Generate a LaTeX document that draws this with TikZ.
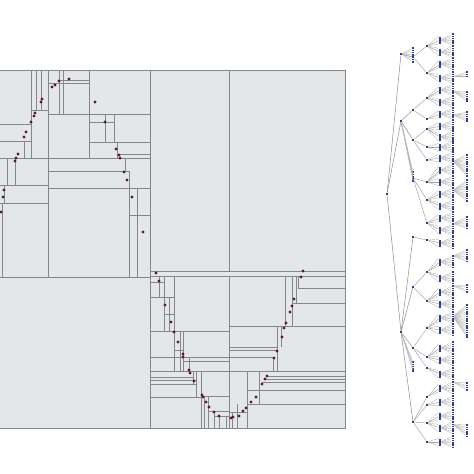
\documentclass[tikz,border=0pt]{standalone}
\usetikzlibrary{positioning}
\definecolor{cellfill}{HTML}{E4E7EA}
\definecolor{cutgray}{HTML}{84878A}
\definecolor{ptred}{HTML}{5A1A24}
\definecolor{navy}{HTML}{2E3C8E}
\tikzset{
  cell/.style={fill=cellfill, draw=cutgray, line width=1pt},
  cut/.style={draw=cutgray, line width=0.9pt},
  sample/.style={fill=ptred},
  tnode/.style={fill=navy, inner sep=0pt, minimum width=2.4pt, minimum height=2.4pt},
  bar/.style={tnode, minimum height=7pt},
  leaf/.style={fill=navy, inner sep=0pt, minimum width=2.6pt, minimum height=1.6pt},
  edge/.style={draw=black!45, line width=0.5pt},
  fan/.style={draw=black!28, line width=0.4pt}
}
% column of leaves hanging off one parent: name, parent, x, top y, count
\newcommand{\leafcol}[5]{%
  \foreach \k in {1,...,#5}{%
    \pgfmathsetmacro{\yy}{#4+2.3*(\k-1)}%
    \node[leaf] (#1-\k) at (#3,\yy) {};
    \draw[fan] (#2) -- (#1-\k);
  }}

\begin{document}
\begin{tikzpicture}[x=1pt,y=-1pt]
\useasboundingbox (0,0) rectangle (474,474);

% partition of the plane
\begin{scope}
  \clip (0,0) rectangle (474,474);
  \draw[cell] (-15,70) rectangle (345,428);
  \foreach \y/\xa/\xb in {277/-15/150, 271/150/345, 276/150/345, 158/-15/150,
      110/31/48, 80/59/89, 83/48/89, 114/48/150, 122/89/114, 142/89/150, 154/117/150,
      124/-15/31, 141/-15/31, 171/48/129, 188/48/150, 215/129/150, 185/-15/48, 203/-15/48,
      282/150/164, 297/150/174, 314/164/174, 331/150/229, 350/174/183, 357/150/229,
      361/183/229, 371/150/345, 377/150/193, 380/150/196, 384/150/196, 397/150/201,
      396/201/229, 411/208/229, 416/214/229,
      288/298/345, 303/292/345, 326/229/345, 347/229/277, 350/229/277, 357/229/273,
      376/266/345, 379/264/345, 382/262/345, 390/247/345, 404/247/345, 412/229/247}
    \draw[cut] (\xa,\y) -- (\xb,\y);
  \foreach \x/\ya/\yb in {150/70/428, 229/70/271, 229/276/428,
      31/70/158, 36/70/110, 41/70/110, 48/70/158, 59/70/114, 63/70/114, 89/70/158,
      105/114/142, 114/114/142, 117/142/158, 24/141/158,
      48/158/277, 125/158/171, 129/171/277, 137/188/277, 7/158/185, 15/158/185,
      4/185/203, 2/203/277,
      159/276/297, 164/276/331, 174/276/371, 169/297/331, 180/331/371, 183/331/371,
      189/357/371, 193/371/384, 196/371/397, 201/371/428, 204/397/428, 208/396/428,
      214/411/428, 219/416/428, 226/416/428,
      298/276/288, 296/276/303, 292/276/326, 285/276/326, 277/326/371, 281/326/347,
      273/357/371, 247/371/428, 259/371/404, 237/404/428, 232/412/428}
    \draw[cut] (\x,\ya) -- (\x,\yb);
  % samples
  \foreach \px/\py in {69/79, 59/81, 55/85, 52/87, 42/99, 41/102, 35/113, 34/116,
      31/122, 26/132, 24/137, 18/154, 16/158, 15/161, 4/190, 3/197, 1/212,
      95/102, 105/122, 116/149, 119/155, 120/158, 124/172, 127/180, 132/197, 143/232,
      156/273, 159/281, 165/305, 171/322, 174/332, 178/342, 183/354, 183/357,
      189/370, 190/373, 194/381, 202/395, 203/397, 206/402, 209/407, 214/412,
      219/416, 231/418, 233/417, 239/416, 243/411, 246/408, 251/402, 256/397,
      262/384, 265/379, 267/376, 274/358, 277/351, 282/337, 284/328, 286/323,
      290/312, 292/306, 294/299, 301/277, 303/271}
    \fill[sample] (\px,\py) circle (1.6);
\end{scope}

% tree
\node[tnode] (r) at (387,194) {};
\node[tnode] (a) at (401,54) {};
\node[tnode] (b) at (401,121) {};
\node[tnode] (c) at (401,332) {};
\draw[edge] (r) -- (a);
\draw[edge] (r) -- (b);
\draw[edge] (r) -- (c);

\foreach \n/\p/\y in {a1/a/57, b1/b/110, b2/b/140, b3/b/178, c1/c/237, c2/c/287, c3/c/348, c4/c/422}{
  \node[tnode] (\n) at (413,\y) {};
  \draw[edge] (\p) -- (\n);
}
\leafcol{ac}{a}{413}{48}{7}
\leafcol{bc}{b}{413}{172}{5}
\leafcol{cc}{c}{413}{362}{5}

\foreach \n/\p/\y in {p1/a1/46, p2/a1/73, p3/b1/98, p4/b1/119, p5/b2/129, p6/b2/147,
    p7/b2/160, p8/b3/182, p9/b3/200, p10/b3/223, p11/c1/240, p12/c2/272, p13/c2/301,
    p14/c3/328, p15/c3/357, p16/c3/368, p17/c4/397, p18/c4/405, p19/c4/423, p20/c4/442}{
  \node[tnode] (\n) at (427,\y) {};
  \draw[edge, draw=black!35] (\p) -- (\n);
}

\foreach \n/\p/\y in {d1/p1/40, d2/p1/52, d3/p2/64, d4/p2/78, d5/p3/90, d6/p3/102,
    d7/p4/114, d8/p5/126, d9/p5/137, d10/p6/147, d11/p7/158, d12/p8/170, d13/p8/182,
    d14/p9/194, d15/p9/206, d16/p10/218, d17/p10/230, d18/p11/243, d19/p12/262,
    d20/p12/278, d21/p13/292, d22/p13/304, d23/p14/318, d24/p14/330, d25/p15/348,
    d26/p15/360, d27/p16/374, d28/p17/388, d29/p18/402, d30/p19/416, d31/p19/428,
    d32/p20/442}{
  \node[bar] (\n) at (440,\y) {};
  \draw[fan] (\p) -- (\n.north west);
  \draw[fan] (\p) -- (\n.south west);
  \draw[edge, draw=black!35] (\p) -- (\n);
  \leafcol{\n}{\n}{453}{\y-6}{6}
}

\foreach \n/\p/\y/\c in {e1/d4-3/72/3, e2/d5-4/92/5, e3/d7-4/112/5, e4/d11-5/155/10,
    e5/d14-2/180/10, e6/d16-6/217/6, e7/d19-1/250/6, e8/d21-1/285/4, e9/d23-3/305/15,
    e10/d28-1/383/4, e11/d31-2/425/6}{
  \leafcol{\n}{\p}{467}{\y}{\c}
}
\end{tikzpicture}
\end{document}
